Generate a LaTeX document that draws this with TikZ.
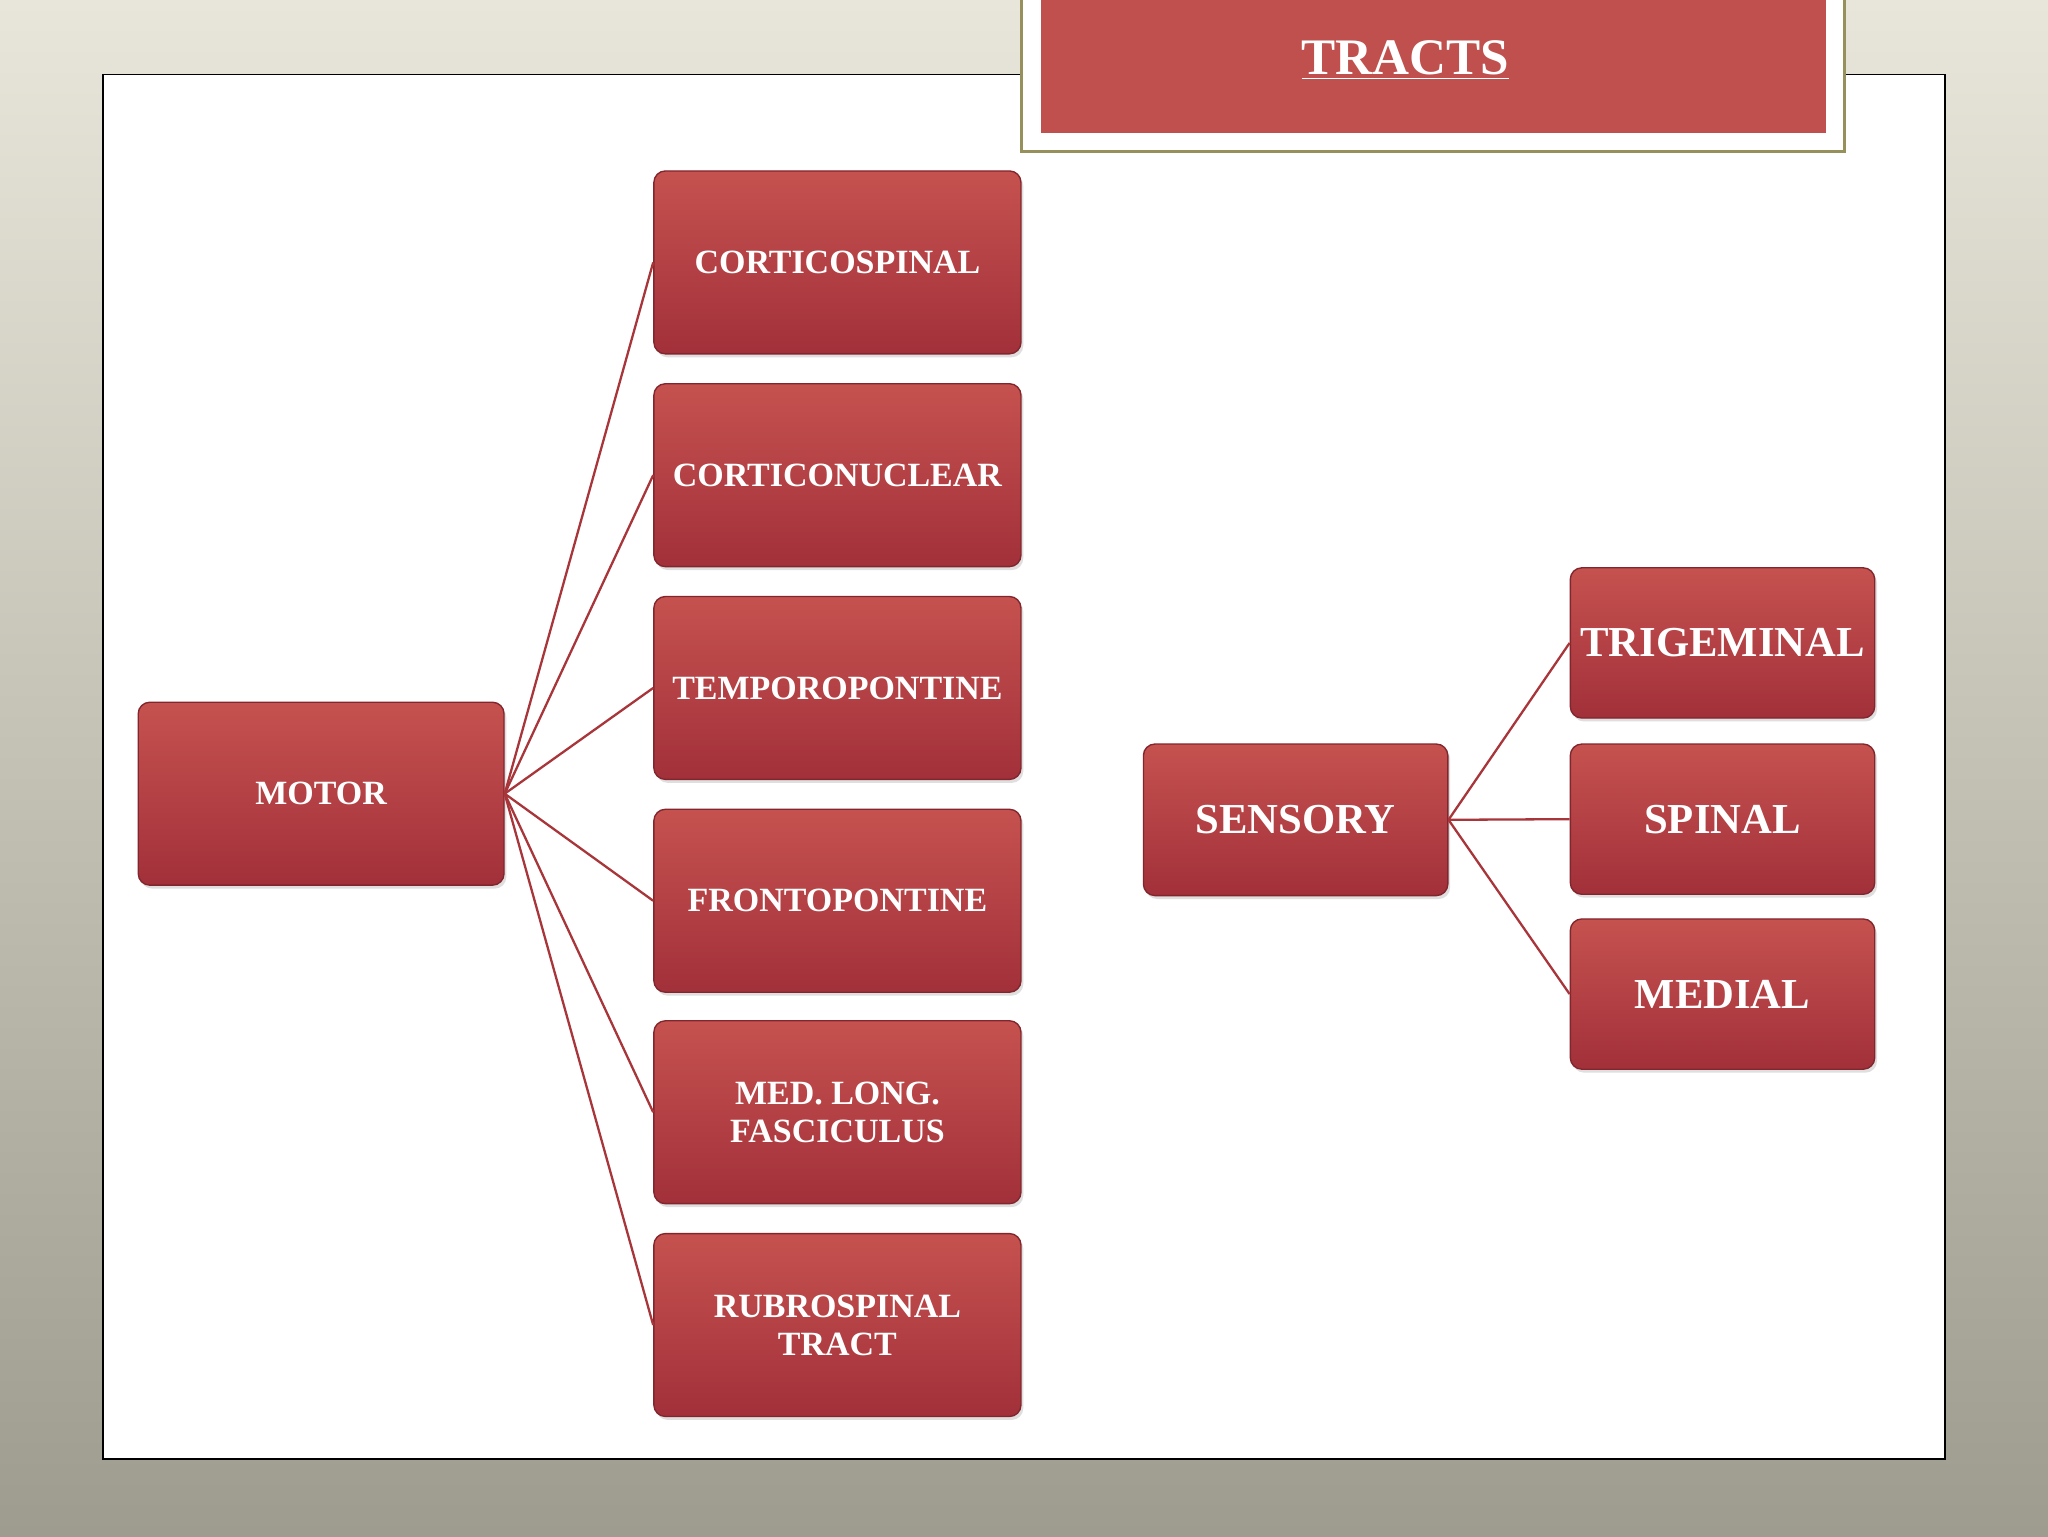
\documentclass[tikz,border=0pt]{standalone}
\usepackage{fontspec}
\setmainfont{Liberation Serif}
\usetikzlibrary{shadows}
\definecolor{rtop}{HTML}{C6524F}
\definecolor{rbot}{HTML}{A2303A}
\definecolor{tred}{HTML}{C0504D}
\definecolor{lnk}{HTML}{A8353A}
\tikzset{
 rbox/.style={draw=rbot!80!black, line width=0.6pt, rounded corners=5pt, top color=rtop, bottom color=rbot, drop shadow={opacity=0.25,shadow xshift=1pt,shadow yshift=-1.5pt}, text=white, font=\bfseries\fontsize{14.8}{16.5}\selectfont, align=center, inner sep=0pt},
 big/.style={font=\bfseries\fontsize{18.6}{21}\selectfont},
 lk/.style={draw=lnk, line width=1pt}
}
\newcommand{\bx}[6]{\node[rbox,#6, minimum width={(#4-#2)*0.02cm}, minimum height={(#5-#3)*0.02cm}] (#1) at ({(#2+#4)*0.01},{-(#3+#5)*0.01})}
\begin{document}
\begin{tikzpicture}
\useasboundingbox (0,0) rectangle (31.36,-23.52);
\shade[top color={rgb,255:red,232;green,230;blue,218}, bottom color={rgb,255:red,158;green,156;blue,142}] (0,0) rectangle (31.36,-23.52);
\draw[fill=white, line width=0.6pt] (1.58,-1.14) rectangle (29.78,-22.34);
\fill[white] (15.64,0) rectangle (28.24,-2.32);
\draw[draw={rgb,255:red,150;green,145;blue,90}, line width=1.5pt] (15.64,0) -- (15.64,-2.32) -- (28.24,-2.32) -- (28.24,0);
\fill[tred] (15.94,0) rectangle (27.96,-2.04);
\node[text=white, font=\bfseries\fontsize{22.3}{24}\selectfont] (title) at (21.52,-0.92) {\underline{TRACTS}};
\bx{motor}{106}{538}{386}{678}{}{MOTOR};
\bx{c1}{501}{131}{782}{271}{}{CORTICOSPINAL};
\bx{c2}{501}{294}{782}{434}{}{CORTICONUCLEAR};
\bx{c3}{501}{457}{782}{597}{}{TEMPOROPONTINE};
\bx{c4}{501}{620}{782}{760}{}{FRONTOPONTINE};
\bx{c5}{501}{782}{782}{922}{}{MED. LONG.\\FASCICULUS};
\bx{c6}{501}{945}{782}{1085}{}{RUBROSPINAL\\TRACT};
\bx{sens}{876}{570}{1109}{686}{big}{SENSORY};
\bx{s1}{1203}{435}{1436}{550}{big}{TRIGEMINAL};
\bx{s2}{1203}{570}{1436}{685}{big}{SPINAL};
\bx{s3}{1203}{704}{1436}{819}{big}{MEDIAL};
\foreach \t in {c1,c2,c3,c4,c5,c6} \draw[lk] (motor.east) -- (\t.west);
\foreach \t in {s1,s2,s3} \draw[lk] (sens.east) -- (\t.west);
\end{tikzpicture}
\end{document}
